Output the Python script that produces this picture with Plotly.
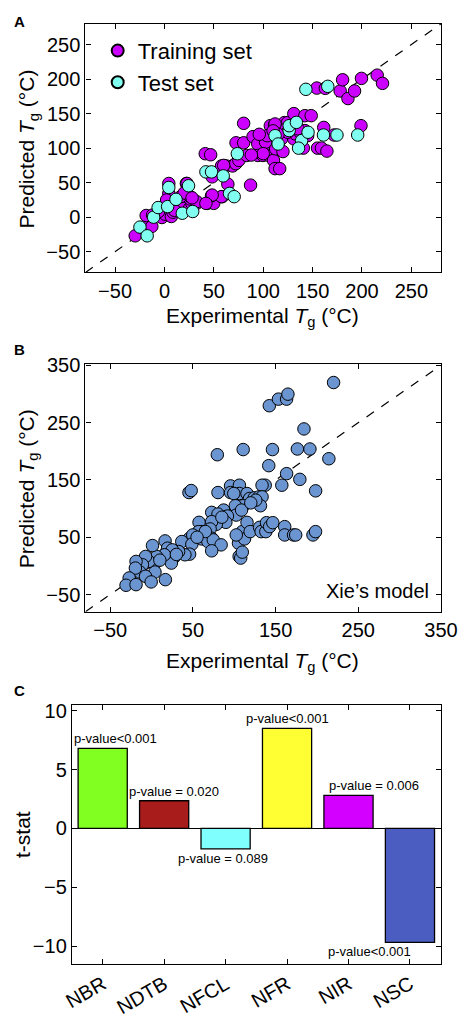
import plotly.graph_objects as go

# ---------------- data ----------------
train_x = [-29.6, -18.5, -12.8, -18.5, -12, -2.6, 0.6, 7, 4.4, 4.4, 2.2, 8.6, 11.8, 16.5, 19, 21.3, 22.2, 25.5,
           27.7, 32.5, 26, 16.5, 32.5, 41.3, 46.8, 43.5, 49.9, 47.7, 58.5, 48.3, 57.8, 62.6, 69, 72.2, 64.2, 72.5,
           80.2, 80.2, 75.4, 83.3, 87.2, 89.7, 94.5, 94.5, 99.8, 105.6, 104, 106.3, 107.2, 111.4, 108.8, 110.4, 112,
           116.7, 107, 112.6, 115, 118.4, 121.6, 124.7, 127.9, 131, 131, 132.6, 123, 112, 102.4, 104, 118.4, 124.7,
           137.4, 142.2, 148.6, 142.2, 140.6, 155, 159, 164.5, 161.3, 171.8, 199, 154.3, 162.9, 177.9, 180.4, 185.8,
           192.5, 199.5, 215.4, 220.8, 57.8, 48.3, 42, 22.9, 26, -6, 10, 20, 28, 60, 115, 120, 100, 128, 135, 145,
           96, 110, 88]
train_y = [-27, -12, -13.4, 2.4, 3, -0.5, 4.3, 1, 34.4, 48.8, 24.8, 7.2, 13, 25, 18.7, 30.6, 48.8, 13,
           20, 20, 26.3, 29.7, 22.5, 91.9, 90.4, 20, 20, 31, 29.7, 58.4, 74.2, 74.2, 74.2, 77.5, 47.8, 107.7,
           107.7, 135.9, 82.3, 89.4, 46.4, 116.7, 106, 89.4, 89.4, 89.4, 106, 118, 132.5, 133.5, 89.5, 82.3, 70.3,
           70.3, 111, 99, 107.7, 118, 137, 137, 123, 150, 113.4, 120.6, 127.8, 135, 108.6, 118, 113.4, 123,
           123, 147, 147, 125.4, 100, 100, 100, 95.7, 130, 119, 132.5, 187, 186.6, 182.8, 199, 171.8,
           182.8, 201, 205.7, 193.8, 29.7, 32, 20, 48.8, 29.7, 8, 10, 35, 28, 75, 120, 95, 92, 130, 128, 118,
           120, 125, 90]

test_x = [-24.8, -17.5, -11, -6.4, 3.2, 4.4, 11.7, 18.1, 24.4, 28.6, 42, 47.7, 59.5, 65.9, 70.6, 73.8, 112,
          115.1, 126.3, 126.3, 133.6, 138.9, 135.8, 145.4, 143.2, 165.4, 161, 174.7, 195.7]
test_y = [-14.4, -27, 0, 13.9, 15.3, 43, 25.8, 5.7, 45.5, 8.2, 65.6, 65.6, 59.8, 34.4, 29.7, 91.9, 118,
          106, 125.4, 132.5, 137.3, 111, 100, 123, 185.2, 189.5, 119, 119, 119]

xie_x = [220.1, 142.4, 153.4, 163.3, 164.9, 184.3, 79.5, 110.8, 146.2, 176.3, 191.5, 214.4, 141.7, 163.3,
         179.3, 198.4, 157.5, 137.4, 133.6, 45.2, 47.9, 80.3, 95.5, 95.5, 106.2, 106.2, 99.4, 115.4, 118.5,
         124.2, 130, 133.6, 131.7, 126, 110.8, 101.3, 102.4, 108.8, 87.1, 72.7, 80.3, 91.7, 89.8, 78.3, 72.7,
         57.4, 70.8, 61.2, 56.7, 46, 49.8, 36.5, 48.7, 60.5, 72.7, 68.1, 74.6, 84.1, 72.7, 46, 40.3, 32.7, 27,
         23.9, 17.4, 16.3, 19.3, 25, 15.5, 6, 3.4, 4.1, 1.1, -3.5, -7.3, -11.1, -14.2, -7.3, -0.5, -18.8,
         -19.6, -27.1, -30.9, -18.8, 16.7, 105.1, 105.9, 107.8, 109.7, 109.7, 112.4, 115.4, 119.2, 130.6,
         132.5, 138.2, 139, 142.8, 146.6, 161, 161, 171.7, 174.3, 195.2, 198.3, 102.4, 65, 85, 120, 10, 30, 55]
xie_y = [320, 279.5, 291, 291, 299.7, 239, 194, 203, 203, 204, 204, 187, 174.9, 161,
         151, 131, 140.8, 140.8, 140.8, 128, 131.5, 128, 139.6, 128, 140.8, 126.3, 126.3, 126.3, 117.6,
         118.8, 120.5, 120.5, 105, 114.7, 105, 105, 88.7, 97.4, 97.4, 93.4, 90.5, 87, 76, 72.5, 77.2,
         76, 64.5, 59.8, 59.8, 48.3, 54, 42.5, 37.9, 47.1, 48.3, 42.5, 45.4, 36.7, 26.3, 20.5, 19.4, 25.1, 14.7,
         4.9, 22.3, 43.6, 30.9, 28, 19.4, 16.5, 3.2, -10.7, 35.5, 7.8, 16.5, 2, -10.7, -18.2, -28, 7.8,
         -3.8, -21.1, -33.8, -32.7, -24, 39.6, 16.5, 13.6, 24, 59.8, 47.1, 76, 59.8, 67.3,
         59.8, 59.8, 75.4, 68.5, 75.4, 68.5, 54, 54, 54, 54, 59.8, 54, 60, 85, 110, 10, 20, 50]

categories = ["NBR", "NDTB", "NFCL", "NFR", "NIR", "NSC"]
t_stat = [6.8, 2.35, -1.73, 8.5, 2.8, -9.67]
p_labels = ["p-value<0.001", "p-value = 0.020", "p-value = 0.089", "p-value<0.001",
            "p-value = 0.006", "p-value<0.001"]

# ---------------- style ----------------
bar_colors = ["#80FF20", "#A81C1C", "#80FFFF", "#FFFF33", "#D400FF", "#4B5DC0"]
label_xshift = [13, 10, -3, 0, 25, -40]
FONT = "Liberation Sans, Arial, sans-serif"
W, H = 474, 1019


def px(x):
    return x / W


def py(y):
    return 1 - y / H


axis_style = dict(showline=True, linecolor="black", linewidth=1.3, mirror="ticks", ticks="inside",
                  ticklen=5, tickwidth=1, tickcolor="black", showgrid=False, zeroline=False,
                  tickfont=dict(family=FONT, size=20, color="black"))

fig = go.Figure()

# Panel A
fig.add_trace(go.Scatter(x=[-80, 280], y=[-80, 280], mode="lines", showlegend=False,
                         line=dict(color="black", width=1.2, dash="dash"), xaxis="x", yaxis="y"))
fig.add_trace(go.Scatter(x=train_x, y=train_y, mode="markers", name="Training set",
                         marker=dict(size=12.5, color="#CC00FF", line=dict(color="black", width=1)),
                         xaxis="x", yaxis="y"))
fig.add_trace(go.Scatter(x=test_x, y=test_y, mode="markers", name="Test set",
                         marker=dict(size=12.5, color="#80FFF0", line=dict(color="black", width=1)),
                         xaxis="x", yaxis="y"))

# Panel B
fig.add_trace(go.Scatter(x=[-80, 350], y=[-80, 350], mode="lines", showlegend=False,
                         line=dict(color="black", width=1.2, dash="dash"), xaxis="x2", yaxis="y2"))
fig.add_trace(go.Scatter(x=xie_x, y=xie_y, mode="markers", showlegend=False,
                         marker=dict(size=12.5, color="#6B95D1", line=dict(color="black", width=1)),
                         xaxis="x2", yaxis="y2"))

# Panel C
fig.add_trace(go.Bar(x=categories, y=t_stat, width=0.8, showlegend=False,
                     marker=dict(color=bar_colors, line=dict(color="black", width=1.3)),
                     xaxis="x3", yaxis="y3"))

annotations = []
for cat, v, lab, dx in zip(categories, t_stat, p_labels, label_xshift):
    annotations.append(dict(x=cat, y=v, xref="x3", yref="y3", text=lab, showarrow=False,
                            xshift=dx, yanchor="bottom" if v > 0 else "top",
                            font=dict(family=FONT, size=13, color="black")))

title_font = dict(family=FONT, size=21, color="black")
annotations += [
    dict(x=px(2), y=py(1), xref="paper", yref="paper", text="<b>A</b>", showarrow=False,
         xanchor="left", yanchor="top", font=dict(family=FONT, size=15, color="black")),
    dict(x=px(2), y=py(332), xref="paper", yref="paper", text="<b>B</b>", showarrow=False,
         xanchor="left", yanchor="top", font=dict(family=FONT, size=15, color="black")),
    dict(x=px(2), y=py(677), xref="paper", yref="paper", text="<b>C</b>", showarrow=False,
         xanchor="left", yanchor="top", font=dict(family=FONT, size=15, color="black")),
    dict(x=px(19), y=py(140), xref="paper", yref="paper", text="Predicted <i>T</i><sub>g</sub> (°C)",
         showarrow=False, textangle=-90, xanchor="center", yanchor="middle", font=title_font),
    dict(x=px(268), y=py(310), xref="paper", yref="paper", text="Experimental <i>T</i><sub>g</sub> (°C)",
         showarrow=False, xanchor="center", yanchor="middle", font=title_font),
    dict(x=px(19), y=py(483), xref="paper", yref="paper", text="Predicted <i>T</i><sub>g</sub> (°C)",
         showarrow=False, textangle=-90, xanchor="center", yanchor="middle", font=title_font),
    dict(x=px(268), y=py(658), xref="paper", yref="paper", text="Experimental <i>T</i><sub>g</sub> (°C)",
         showarrow=False, xanchor="center", yanchor="middle", font=title_font),
    dict(x=px(14), y=py(833), xref="paper", yref="paper", text="t-stat",
         showarrow=False, textangle=-90, xanchor="center", yanchor="middle", font=title_font),
    dict(x=px(446), y=py(600), xref="paper", yref="paper", text="Xie’s model",
         showarrow=False, xanchor="right", yanchor="bottom", font=dict(family=FONT, size=20, color="black")),
]

fig.update_layout(
    width=W, height=H, margin=dict(l=0, r=0, t=0, b=0),
    paper_bgcolor="white", plot_bgcolor="white",
    font=dict(family=FONT, color="black"),
    xaxis=dict(domain=[px(80), px(457)], range=[-80, 280], tickvals=[-50, 0, 50, 100, 150, 200, 250],
               anchor="y", **axis_style),
    yaxis=dict(domain=[py(265), py(14)], range=[-80, 280], tickvals=[-50, 0, 50, 100, 150, 200, 250],
               anchor="x", **axis_style),
    xaxis2=dict(domain=[px(80), px(457)], range=[-80, 350], tickvals=[-50, 50, 150, 250, 350],
                anchor="y2", **axis_style),
    yaxis2=dict(domain=[py(607.7), py(357.7)], range=[-80, 352], tickvals=[-50, 50, 150, 250, 350],
                anchor="x2", **axis_style),
    xaxis3=dict(domain=[px(65.7), px(456.7)], range=[-0.5, 5.5], tickangle=-30,
                anchor="y3", **axis_style),
    yaxis3=dict(domain=[py(963.3), py(701.7)], range=[-11.5, 10.5], tickvals=[-10, -5, 0, 5, 10],
                anchor="x3", **{**axis_style, "zeroline": True, "zerolinecolor": "black",
                                "zerolinewidth": 1.2}),
    legend=dict(x=px(93), y=py(20), xanchor="left", yanchor="top", bgcolor="rgba(0,0,0,0)",
                font=dict(family=FONT, size=22, color="black"), itemsizing="constant",
                tracegroupgap=0),
    annotations=annotations,
    bargap=0.2,
)

fig.write_html("out.html")
